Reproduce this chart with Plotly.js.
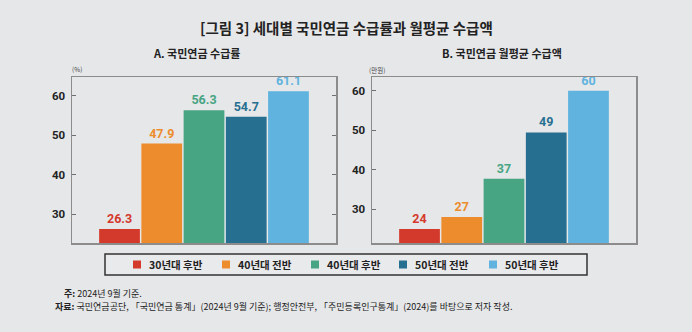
<!DOCTYPE html>
<html>
<head>
<meta charset="utf-8">
<script src="https://cdn.plot.ly/plotly-3.0.1.min.js"></script>
<style>
  html, body { margin: 0; padding: 0; background: #e6e7e9; }
  #chart { width: 692px; height: 332px; }
</style>
</head>
<body>
<div id="chart"></div>
<script>
// ---- data ----
const groups = ['30년대 후반', '40년대 전반', '40년대 후반', '50년대 전반', '50년대 후반'];
const colors = ['#d43a2c', '#ec8c2c', '#48a583', '#266f90', '#60b3de'];
const rateValues = [26.3, 47.9, 56.3, 54.7, 61.1];
const rateLabels = ['26.3', '47.9', '56.3', '54.7', '61.1'];
const amountValues = [24.9, 28.0, 37.7, 49.4, 60.0];
const amountLabels = ['24', '27', '37', '49', '60'];
const yTicks = [30, 40, 50, 60];
const titleText = '[그림 3] 세대별 국민연금 수급률과 월평균 수급액';
const subtitleA = 'A. 국민연금 수급률';
const subtitleB = 'B. 국민연금 월평균 수급액';
const unitA = '(%)';
const unitB = '(만원)';
const noteText = '<b>주:</b> 2024년 9월 기준.';
const sourceText = '<b>자료:</b> 국민연금공단, 「국민연금 통계」(2024년 9월 기준); 행정안전부, 「주민등록인구통계」(2024)를 바탕으로 저자 작성.';

// ---- layout helpers ----
const W = 692, H = 332;
const px = x => x / W;
const py = y => 1 - y / H;
const KR = '"Noto Sans CJK KR", "Noto Sans", sans-serif';
const NUM = 'Roboto, "Noto Sans CJK KR", sans-serif';
const BG = '#e6e7e9';

const traces = [];
groups.forEach((g, i) => {
  traces.push({
    type: 'bar', x: ['A'], y: [rateValues[i]], name: g,
    marker: { color: colors[i] },
    text: [rateLabels[i]], textposition: 'outside', cliponaxis: false,
    textfont: { family: NUM, size: 12.5, color: colors[i], weight: 'bold' },
    xaxis: 'x', yaxis: 'y', showlegend: false, hoverinfo: 'skip'
  });
});
groups.forEach((g, i) => {
  traces.push({
    type: 'bar', x: ['B'], y: [amountValues[i]], name: g,
    marker: { color: colors[i] },
    text: [amountLabels[i]], textposition: 'outside', cliponaxis: false,
    textfont: { family: NUM, size: 12.5, color: colors[i], weight: 'bold' },
    xaxis: 'x2', yaxis: 'y2', showlegend: false, hoverinfo: 'skip'
  });
});

const axisLine = { showline: true, linecolor: '#8c8c8c', linewidth: 1.5, mirror: true, showgrid: false, zeroline: false };
const yCommon = Object.assign({}, axisLine, {
  tickvals: yTicks, ticktext: yTicks.map(String), ticks: 'inside', ticklen: 4, tickcolor: '#707070', tickwidth: 1,
  tickfont: { family: NUM, size: 11.5, color: '#222', weight: 'bold' }, ticklabelstandoff: 3
});

const layout = {
  width: W, height: H,
  margin: { l: 0, r: 0, t: 0, b: 0 },
  paper_bgcolor: BG, plot_bgcolor: BG,
  barmode: 'group', bargap: 0.2, bargroupgap: 0.035,
  showlegend: false,
  xaxis: Object.assign({}, axisLine, { domain: [px(72), px(336)], showticklabels: false, ticks: '', fixedrange: true }),
  xaxis2: Object.assign({}, axisLine, { domain: [px(372), px(636)], showticklabels: false, ticks: '', anchor: 'y2', fixedrange: true }),
  yaxis: Object.assign({}, yCommon, { domain: [py(243), py(77)], range: [22.74, 64.73], mirror: 'ticks' }),
  yaxis2: Object.assign({}, yCommon, { domain: [py(243), py(77)], range: [21.38, 63.47], anchor: 'x2' }),
  yaxis3: { overlaying: 'y2', side: 'right', anchor: 'x2', range: [22.74, 64.73], tickvals: yTicks,
            ticks: 'inside', ticklen: 4, tickcolor: '#707070', showticklabels: false, showline: false,
            showgrid: false, zeroline: false },
  shapes: [],
  annotations: [
    { text: '<b>' + titleText + '</b>', x: px(346), y: py(27), xref: 'paper', yref: 'paper', showarrow: false,
      xanchor: 'center', yanchor: 'middle', font: { family: KR, size: 14.5, color: '#222' } },
    { text: '<b>' + subtitleA + '</b>', x: px(196), y: py(53), xref: 'paper', yref: 'paper', showarrow: false,
      xanchor: 'center', yanchor: 'middle', font: { family: KR, size: 11, color: '#222' } },
    { text: '<b>' + subtitleB + '</b>', x: px(502), y: py(53), xref: 'paper', yref: 'paper', showarrow: false,
      xanchor: 'center', yanchor: 'middle', font: { family: KR, size: 11, color: '#222' } },
    { text: unitA, x: px(77), y: py(69), xref: 'paper', yref: 'paper', showarrow: false,
      xanchor: 'center', yanchor: 'middle', font: { family: KR, size: 6.5, color: '#444' } },
    { text: unitB, x: px(377), y: py(70), xref: 'paper', yref: 'paper', showarrow: false,
      xanchor: 'center', yanchor: 'middle', font: { family: KR, size: 6.5, color: '#444' } },
    { text: noteText, x: px(62), y: py(293), xref: 'paper', yref: 'paper', showarrow: false,
      xanchor: 'left', yanchor: 'middle', font: { family: KR, size: 9, color: '#222' } },
    { text: sourceText, x: px(53), y: py(306), xref: 'paper', yref: 'paper', showarrow: false,
      xanchor: 'left', yanchor: 'middle', font: { family: KR, size: 9, color: '#222' } }
  ]
};

// custom legend box
layout.shapes.push({ type: 'rect', xref: 'paper', yref: 'paper', x0: px(105), x1: px(587), y0: py(275), y1: py(254),
  line: { color: '#333', width: 1.5 }, fillcolor: '#e9eaec', layer: 'below' });
const legendStarts = [133, 222, 311, 399, 489];
groups.forEach((g, i) => {
  const x0 = legendStarts[i];
  layout.shapes.push({ type: 'rect', xref: 'paper', yref: 'paper', x0: px(x0), x1: px(x0 + 8), y0: py(268.5), y1: py(260.5),
    line: { width: 0 }, fillcolor: colors[i] });
  layout.annotations.push({ text: '<b>' + g + '</b>', x: px(x0 + 14), y: py(264.5), xref: 'paper', yref: 'paper',
    showarrow: false, xanchor: 'left', yanchor: 'middle', font: { family: KR, size: 10.5, color: '#222' } });
});

Plotly.newPlot('chart', traces, layout, { staticPlot: true, displayModeBar: false });
</script>
</body>
</html>
